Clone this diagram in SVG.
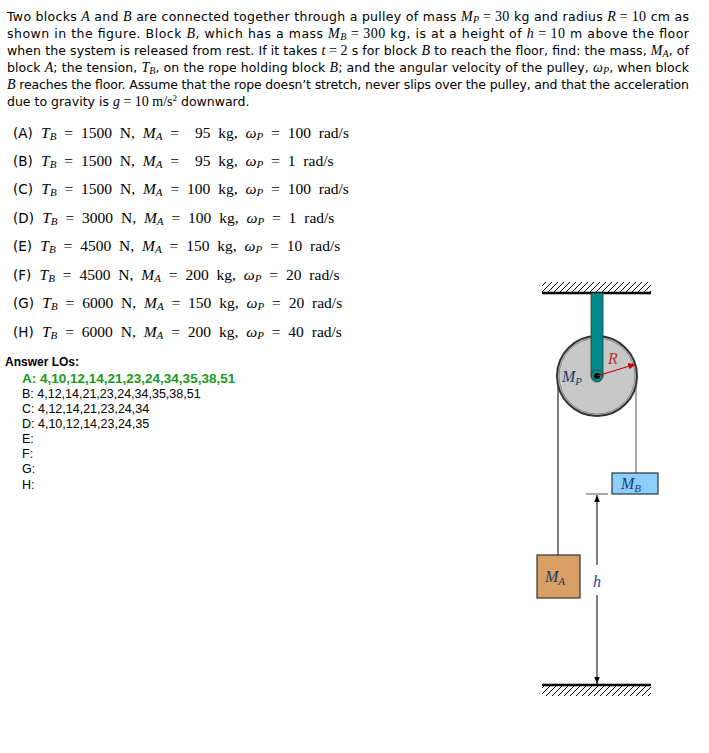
<svg xmlns="http://www.w3.org/2000/svg" width="709" height="753" viewBox="0 0 709 753">
<defs>
<style>
.t{font-family:"DejaVu Sans","Liberation Sans",sans-serif;font-size:12.5px;fill:#000}
.m{font-family:"Liberation Serif",serif;font-style:italic;font-size:14px}
.r{font-family:"Liberation Serif",serif;font-size:14px}
.o{font-family:"DejaVu Sans",sans-serif;font-size:13.5px;word-spacing:4px}
.o .m,.o .r{font-size:15.5px}
.lo{font-family:"Liberation Sans",sans-serif;font-size:12.5px}
</style>
<pattern id="hatch" width="6" height="6" patternUnits="userSpaceOnUse"><path d="M0,6 L6,0 M-1,1 L1,-1 M5,7 L7,5" stroke="#000" stroke-width="1"/></pattern>
<marker id="ar" viewBox="0 0 10 10" refX="10" refY="5" markerWidth="7" markerHeight="7" orient="auto-start-reverse"><path d="M0,1 L10,5 L0,9 z" fill="#000"/></marker>
<marker id="rr" viewBox="0 0 10 10" refX="10" refY="5" markerWidth="6" markerHeight="6" orient="auto"><path d="M0,1 L10,5 L0,9 z" fill="#c00"/></marker>
</defs>
<rect width="709" height="753" fill="#fff"/>
<g id="problem" class="t">
<text x="7" y="21" textLength="682" lengthAdjust="spacing">Two blocks <tspan class="m">A</tspan> and <tspan class="m">B</tspan> are connected together through a pulley of mass <tspan class="m">M<tspan font-size="10" dy="2">P</tspan></tspan><tspan dy="-2" class="r"> = 30</tspan> kg and radius <tspan class="m">R</tspan><tspan class="r"> = 10</tspan> cm as</text>
<text x="7" y="38" textLength="682" lengthAdjust="spacing">shown in the figure. Block <tspan class="m">B</tspan>, which has a mass <tspan class="m">M<tspan font-size="10" dy="2">B</tspan></tspan><tspan dy="-2" class="r"> = 300</tspan> kg, is at a height of <tspan class="m">h</tspan><tspan class="r"> = 10</tspan> m above the floor</text>
<text x="7" y="55" textLength="682" lengthAdjust="spacing">when the system is released from rest. If it takes <tspan class="m">t</tspan><tspan class="r"> = 2</tspan> s for block <tspan class="m">B</tspan> to reach the floor, find: the mass, <tspan class="m">M<tspan font-size="10" dy="2">A</tspan></tspan><tspan dy="-2">, of</tspan></text>
<text x="7" y="72" textLength="682" lengthAdjust="spacing">block <tspan class="m">A</tspan>; the tension, <tspan class="m">T<tspan font-size="10" dy="2">B</tspan></tspan><tspan dy="-2">, on the rope holding block </tspan><tspan class="m">B</tspan>; and the angular velocity of the pulley, <tspan class="m">ω<tspan font-size="10" dy="2">P</tspan></tspan><tspan dy="-2">, when block</tspan></text>
<text x="7" y="89" textLength="682" lengthAdjust="spacing"><tspan class="m">B</tspan> reaches the floor. Assume that the rope doesn’t stretch, never slips over the pulley, and that the acceleration</text>
<text x="7" y="106">due to gravity is <tspan class="m">g</tspan><tspan class="r"> = 10 m/s</tspan><tspan style="font-family:'Liberation Serif',serif;font-size:9px" dy="-5">2</tspan><tspan dy="5"> downward.</tspan></text>
</g>
<g id="options" class="o">
<text x="13" y="138">(A) <tspan class="m">T<tspan font-size="11" dy="2">B</tspan></tspan><tspan class="r" dy="-2"> = 1500 N, </tspan><tspan class="m">M<tspan font-size="11" dy="2">A</tspan></tspan><tspan class="r" dy="-2"> = </tspan><tspan class="r" dx="8">95 kg, </tspan><tspan class="m">ω<tspan font-size="11" dy="2">P</tspan></tspan><tspan class="r" dy="-2"> = 100 rad/s</tspan></text>
<text x="13" y="166">(B) <tspan class="m">T<tspan font-size="11" dy="2">B</tspan></tspan><tspan class="r" dy="-2"> = 1500 N, </tspan><tspan class="m">M<tspan font-size="11" dy="2">A</tspan></tspan><tspan class="r" dy="-2"> = </tspan><tspan class="r" dx="8">95 kg, </tspan><tspan class="m">ω<tspan font-size="11" dy="2">P</tspan></tspan><tspan class="r" dy="-2"> = 1 rad/s</tspan></text>
<text x="13" y="194">(C) <tspan class="m">T<tspan font-size="11" dy="2">B</tspan></tspan><tspan class="r" dy="-2"> = 1500 N, </tspan><tspan class="m">M<tspan font-size="11" dy="2">A</tspan></tspan><tspan class="r" dy="-2"> = 100 kg, </tspan><tspan class="m">ω<tspan font-size="11" dy="2">P</tspan></tspan><tspan class="r" dy="-2"> = 100 rad/s</tspan></text>
<text x="13" y="223">(D) <tspan class="m">T<tspan font-size="11" dy="2">B</tspan></tspan><tspan class="r" dy="-2"> = 3000 N, </tspan><tspan class="m">M<tspan font-size="11" dy="2">A</tspan></tspan><tspan class="r" dy="-2"> = 100 kg, </tspan><tspan class="m">ω<tspan font-size="11" dy="2">P</tspan></tspan><tspan class="r" dy="-2"> = 1 rad/s</tspan></text>
<text x="13" y="251">(E) <tspan class="m">T<tspan font-size="11" dy="2">B</tspan></tspan><tspan class="r" dy="-2"> = 4500 N, </tspan><tspan class="m">M<tspan font-size="11" dy="2">A</tspan></tspan><tspan class="r" dy="-2"> = 150 kg, </tspan><tspan class="m">ω<tspan font-size="11" dy="2">P</tspan></tspan><tspan class="r" dy="-2"> = 10 rad/s</tspan></text>
<text x="13" y="280">(F) <tspan class="m">T<tspan font-size="11" dy="2">B</tspan></tspan><tspan class="r" dy="-2"> = 4500 N, </tspan><tspan class="m">M<tspan font-size="11" dy="2">A</tspan></tspan><tspan class="r" dy="-2"> = 200 kg, </tspan><tspan class="m">ω<tspan font-size="11" dy="2">P</tspan></tspan><tspan class="r" dy="-2"> = 20 rad/s</tspan></text>
<text x="13" y="308">(G) <tspan class="m">T<tspan font-size="11" dy="2">B</tspan></tspan><tspan class="r" dy="-2"> = 6000 N, </tspan><tspan class="m">M<tspan font-size="11" dy="2">A</tspan></tspan><tspan class="r" dy="-2"> = 150 kg, </tspan><tspan class="m">ω<tspan font-size="11" dy="2">P</tspan></tspan><tspan class="r" dy="-2"> = 20 rad/s</tspan></text>
<text x="13" y="337">(H) <tspan class="m">T<tspan font-size="11" dy="2">B</tspan></tspan><tspan class="r" dy="-2"> = 6000 N, </tspan><tspan class="m">M<tspan font-size="11" dy="2">A</tspan></tspan><tspan class="r" dy="-2"> = 200 kg, </tspan><tspan class="m">ω<tspan font-size="11" dy="2">P</tspan></tspan><tspan class="r" dy="-2"> = 40 rad/s</tspan></text>
</g>
<g id="answers" class="lo">
<text x="5" y="366" font-weight="bold" font-size="12">Answer LOs:</text>
<text x="22" y="383" font-weight="bold" fill="#1a9a1a" font-size="13.5">A:  4,10,12,14,21,23,24,34,35,38,51</text>
<text x="22" y="398">B:  4,12,14,21,23,24,34,35,38,51</text>
<text x="22" y="413">C:  4,12,14,21,23,24,34</text>
<text x="22" y="428">D:  4,10,12,14,23,24,35</text>
<text x="22" y="443">E:</text>
<text x="22" y="458">F:</text>
<text x="22" y="473">G:</text>
<text x="22" y="489">H:</text>
</g>
<g id="ceiling">
<rect x="542" y="282" width="109" height="10" fill="url(#hatch)"/>
<line x1="542" y1="293" x2="651" y2="293" stroke="#000" stroke-width="2.5"/>
</g>
<g id="floor">
<line x1="542" y1="685" x2="651" y2="685" stroke="#000" stroke-width="2.5"/>
<rect x="542" y="686" width="109" height="10" fill="url(#hatch)"/>
</g>
<g id="connectors" stroke="#000" fill="none">
<line x1="558" y1="376" x2="558" y2="555" stroke-width="1"/>
<line x1="636" y1="376" x2="636" y2="473" stroke="#555" stroke-width="1"/>
<line x1="586" y1="494" x2="608" y2="494" stroke="#555" stroke-width="1"/>
<line x1="597" y1="565" x2="597" y2="495" stroke-width="1" marker-end="url(#ar)"/>
<line x1="597" y1="595" x2="597" y2="684" stroke-width="1" marker-end="url(#ar)"/>
</g>
<g id="pulley">
<circle cx="597" cy="376" r="40" fill="#c8c8c8" stroke="#333" stroke-width="2"/>
<circle cx="597" cy="376" r="38" fill="none" stroke="#777" stroke-width="0.8"/>
<rect x="591" y="293" width="12" height="83" fill="#008b8b" stroke="#333" stroke-width="0.8"/>
<circle cx="597" cy="376" r="6" fill="#008b8b" stroke="#333" stroke-width="0.8"/>
<circle cx="597" cy="376" r="3" fill="#000"/>
<line x1="597" y1="376" x2="636" y2="364" stroke="#c00" stroke-width="1.3" marker-end="url(#rr)"/>
<text x="608" y="364" font-family="Liberation Serif,serif" font-style="italic" font-size="16" fill="#c03030">R</text>
<text x="562" y="382" font-family="Liberation Serif,serif" font-style="italic" font-size="16" fill="#1a3a6a">M<tspan font-size="11" dy="3">P</tspan></text>
</g>
<g id="blockB">
<rect x="612" y="473" width="46" height="21" fill="#8ccfff" stroke="#333" stroke-width="1.2"/>
<text x="621" y="489" font-family="Liberation Serif,serif" font-style="italic" font-size="16" fill="#1a3a6a">M<tspan font-size="11" dy="3">B</tspan></text>
</g>
<g id="blockA">
<rect x="537" y="555" width="43" height="43" fill="#d8a064" stroke="#333" stroke-width="1.2"/>
<text x="545" y="582" font-family="Liberation Serif,serif" font-style="italic" font-size="16" fill="#1a3a6a">M<tspan font-size="11" dy="3">A</tspan></text>
</g>
<text x="593" y="587" font-family="Liberation Serif,serif" font-style="italic" font-size="16" fill="#1a4a9a">h</text>
</svg>
